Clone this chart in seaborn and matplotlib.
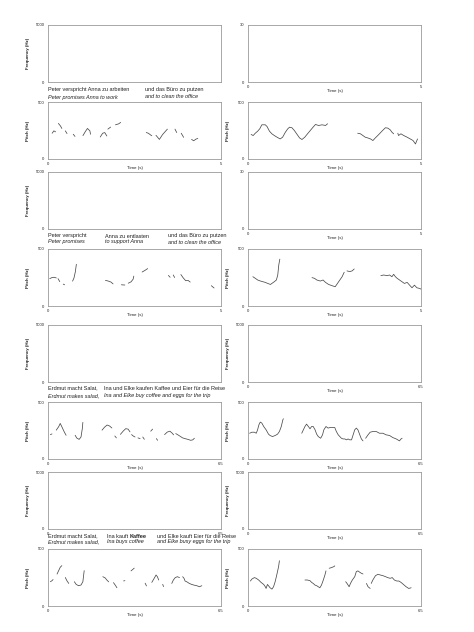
import numpy as np
import pandas as pd
import matplotlib
matplotlib.use("Agg")
import matplotlib.pyplot as plt
import seaborn as sns

# ---------------- data ----------------
# Sentence 1 (0-5 s), left column pitch segments
S1A_T = [[0.12, 0.17, 0.22], [0.30, 0.36, 0.40], [0.50, 0.55], [0.73, 0.78],
         [1.01, 1.08, 1.14, 1.21, 1.23], [1.51, 1.58, 1.64, 1.70], [1.73, 1.81],
         [1.95, 2.04, 2.10], [2.84, 2.90, 2.96, 3.00], [3.12, 3.22, 3.31, 3.45],
         [3.67, 3.72], [3.85, 3.92], [4.15, 4.21, 4.28, 4.33]]
S1A_F = [[226, 247, 238], [312, 290, 268], [247, 223], [217, 198],
         [205, 241, 268, 247, 217], [193, 226, 232, 202], [262, 280],
         [300, 308, 321], [232, 226, 212, 204], [208, 172, 214, 262],
         [262, 232], [226, 190], [172, 160, 175, 180]]
# Sentence 1, right column
S1B_T = [[0.09, 0.15, 0.21, 0.28, 0.34, 0.40, 0.50, 0.55, 0.62, 0.69, 0.76, 0.84, 0.93, 1.00,
          1.08, 1.15, 1.20, 1.27, 1.34, 1.42, 1.49, 1.56, 1.64, 1.72, 1.80, 1.88, 1.95, 2.04,
          2.14, 2.24, 2.30],
         [3.17, 3.25, 3.32, 3.39, 3.46, 3.54, 3.61, 3.68, 3.78, 3.87, 3.97, 4.04, 4.11, 4.16, 4.21],
         [4.33, 4.35, 4.42, 4.50, 4.60, 4.69, 4.77, 4.84, 4.88, 4.90]]
S1B_F = [[215, 206, 226, 244, 265, 300, 300, 285, 244, 221, 206, 191, 176, 191,
          235, 265, 279, 274, 250, 215, 185, 171, 191, 221, 250, 279, 303, 294,
          300, 294, 309],
         [226, 221, 206, 191, 185, 176, 162, 185, 215, 244, 274, 271, 256, 235, 221],
         [226, 206, 221, 206, 191, 176, 162, 132, 162, 176]]

# Sentence 2 (0-5 s)
S2A_T = [[0.05, 0.12, 0.18, 0.24], [0.29, 0.34], [0.44, 0.48], [0.71, 0.75, 0.79, 0.82],
         [1.66, 1.74, 1.82, 1.88], [2.12, 2.22], [2.32, 2.40, 2.46, 2.48],
         [2.72, 2.80, 2.88], [3.48, 3.53], [3.62, 3.66],
         [3.84, 3.91, 3.98, 4.05, 4.11], [4.72, 4.80]]
S2A_F = [[240, 250, 252, 246], [240, 214], [192, 186], [218, 245, 300, 366],
         [225, 219, 210, 194], [186, 184], [200, 212, 235, 262],
         [298, 312, 328], [268, 252], [272, 250],
         [276, 246, 222, 224, 210], [178, 158]]
S2B_T = [[0.14, 0.21, 0.28, 0.36, 0.43, 0.50, 0.57, 0.65, 0.69, 0.76, 0.82, 0.86, 0.89, 0.92],
         [1.85, 1.92, 1.99, 2.09, 2.17, 2.24, 2.33, 2.43, 2.52, 2.62, 2.72, 2.78],
         [2.86, 2.94, 3.01, 3.07],
         [3.84, 3.92, 4.02, 4.09, 4.16, 4.21, 4.26, 4.31, 4.38, 4.45, 4.52, 4.60, 4.67,
          4.74, 4.81, 4.88, 4.96, 5.00]]
S2B_F = [[257, 243, 228, 219, 213, 207, 198, 189, 198, 213, 228, 272, 361, 411],
         [249, 243, 228, 219, 228, 207, 189, 178, 169, 213, 257, 296],
         [308, 302, 308, 325],
         [266, 272, 266, 272, 257, 278, 257, 243, 228, 213, 198, 207, 183,
          160, 183, 160, 154, 148]]

# Sentence 3 (0-6.5 s)
S3A_T = [[0.09, 0.15], [0.31, 0.40, 0.46, 0.52, 0.61, 0.68],
         [1.02, 1.08, 1.17, 1.24, 1.29, 1.31], [2.03, 2.12, 2.22, 2.31, 2.40],
         [2.51, 2.57], [2.72, 2.83, 2.92, 3.01, 3.08], [3.14, 3.20, 3.27],
         [3.38, 3.46], [3.56, 3.62], [3.86, 3.93], [4.07, 4.12],
         [4.38, 4.48, 4.58, 4.66, 4.72],
         [4.80, 4.88, 4.96, 5.06, 5.16, 5.26, 5.36, 5.44, 5.50]]
S3A_F = [[214, 220], [253, 283, 312, 283, 238, 208],
         [208, 184, 172, 193, 268, 321], [253, 278, 298, 290, 272],
         [202, 185], [216, 246, 266, 262, 238], [214, 202, 193],
         [185, 179], [193, 173], [244, 262], [179, 164],
         [214, 236, 244, 228, 212],
         [223, 212, 200, 185, 178, 172, 164, 168, 182]]
S3B_T = [[0.06, 0.15, 0.24, 0.31, 0.36, 0.41, 0.46, 0.52, 0.59, 0.68, 0.77, 0.83, 0.92,
          1.02, 1.11, 1.18, 1.25, 1.31, 1.33],
         [2.02, 2.08, 2.14, 2.20, 2.27, 2.33, 2.39, 2.45, 2.52, 2.58, 2.64, 2.73, 2.80,
          2.85, 2.93, 3.01, 3.08, 3.14, 3.20, 3.26, 3.32, 3.39, 3.45, 3.51, 3.57, 3.64,
          3.70, 3.76, 3.82, 3.89, 3.95, 4.01, 4.07, 4.13, 4.20, 4.26, 4.32],
         [4.42, 4.51, 4.59, 4.69, 4.82, 4.94, 5.07, 5.19, 5.32, 5.44, 5.57, 5.69, 5.75, 5.79]]
S3B_F = [[226, 235, 235, 226, 256, 300, 324, 315, 285, 256, 218, 206, 197,
          206, 218, 241, 285, 344, 353],
         [226, 256, 285, 306, 285, 265, 285, 285, 256, 218, 197, 182, 212,
          256, 285, 271, 276, 276, 276, 276, 241, 212, 197, 182, 176, 176,
          168, 176, 168, 168, 212, 256, 271, 256, 212, 176, 159],
         [182, 212, 235, 241, 241, 226, 226, 212, 206, 188, 176, 159, 176, 182]]

# Sentence 4 (0-6.5 s)
S4A_T = [[0.09, 0.15, 0.19], [0.34, 0.40, 0.46, 0.52], [0.65, 0.71, 0.78],
         [0.99, 1.06, 1.15, 1.24, 1.31, 1.34, 1.36], [2.06, 2.15, 2.21, 2.28],
         [2.46, 2.53, 2.59], [2.84, 2.89], [3.12, 3.18, 3.24], [3.65, 3.70],
         [3.90, 3.99, 4.06, 4.11, 4.16], [4.31, 4.34], [4.65, 4.71, 4.78, 4.86, 4.94],
         [5.06, 5.11, 5.15, 5.21, 5.31, 5.40, 5.49, 5.59, 5.69, 5.78]]
S4A_F = [[213, 222, 232], [280, 310, 340, 354], [250, 222, 198],
         [213, 189, 178, 184, 213, 272, 310], [257, 246, 228, 212],
         [205, 182, 160], [220, 222], [308, 320, 332], [200, 176],
         [207, 243, 272, 257, 228], [190, 170], [198, 228, 249, 257, 249],
         [257, 243, 219, 213, 198, 189, 183, 178, 169, 178]]
S4B_T = [[0.09, 0.15, 0.24, 0.31, 0.40, 0.49, 0.59, 0.65, 0.68, 0.73, 0.77, 0.83, 0.90,
          0.96, 1.02, 1.08, 1.15, 1.18],
         [2.14, 2.23, 2.33, 2.39, 2.45, 2.52, 2.58, 2.64, 2.70, 2.76, 2.83, 2.89, 2.93],
         [3.05, 3.14, 3.23, 3.26],
         [3.67, 3.72, 3.80, 3.85, 3.92, 4.01, 4.07, 4.13, 4.20, 4.26, 4.32],
         [4.45, 4.51, 4.59],
         [4.63, 4.69, 4.79, 4.88, 4.97, 5.07, 5.17, 5.25, 5.34, 5.42, 5.50, 5.59, 5.67,
          5.75, 5.84, 5.94, 6.04, 6.13]]
S4B_F = [[219, 237, 249, 243, 228, 207, 189, 169, 154, 189, 178, 160, 148,
          169, 213, 272, 346, 397],
         [228, 228, 222, 207, 198, 183, 178, 169, 160, 183, 228, 272, 308],
         [331, 337, 346, 352],
         [213, 198, 169, 198, 228, 257, 302, 308, 296, 287, 281],
         [198, 169, 154],
         [198, 228, 266, 278, 272, 266, 257, 249, 243, 249, 228, 219, 219,
          207, 189, 169, 154, 160]]

DURATIONS = [5, 5, 6.5, 6.5]
DUR_LABELS = ["5", "5", "6.5", "6.5"]
RIGHT_SPEC_TOP = ["30", "30", "5000", "5000"]

# Sentence text: (German, English, x position in px)
TEXT_ROWS = [
    [("Peter verspricht Anna zu arbeiten", "Peter promises Anna to work", 48),
     ("und das Büro zu putzen", "and to clean the office", 145)],
    [("Peter verspricht", "Peter promises", 48),
     ("Anna zu entlasten", "to support Anna", 105),
     ("und das Büro zu putzen", "and to clean the office", 168)],
    [("Erdmut macht Salat,", "Erdmut makes salad,", 48),
     ("Ina und Elke kaufen Kaffee und Eier für die Reise",
      "Ina and Elke buy coffee and eggs for the trip", 104)],
    [("Erdmut macht Salat,", "Erdmut makes salad,", 48),
     ("Ina kauft", "Ina buys coffee", 107),
     ("und Elke kauft Eier für die Reise", "and Elke busy eggs for the trip", 157)],
]

PITCH_T = [(S1A_T, S1B_T), (S2A_T, S2B_T), (S3A_T, S3B_T), (S4A_T, S4B_T)]
PITCH_F = [(S1A_F, S1B_F), (S2A_F, S2B_F), (S3A_F, S3B_F), (S4A_F, S4B_F)]

# ---------------- layout ----------------
W, H = 474, 632
sns.set_style("white")
plt.rcParams["font.family"] = ["Liberation Sans", "DejaVu Sans"]

fig = plt.figure(figsize=(W / 100, H / 100), dpi=100)

COL_X = [48, 248]
AX_W = 173
AX_H = 57
SPEC_TOP = [25, 172, 325, 472]
PITCH_TOP = [102, 249, 402, 549]
TEXT_Y = [(90, 97), (236, 242), (388, 396), (536, 542)]

SPINE_C = "#9a9a9a"
LINE_C = "#4a4a4a"
TXT_C = "#222222"
FS_TICK = 3.0
FS_LAB = 3.2
FS_TXT = 4.0


def make_ax(x, ytop):
    return fig.add_axes([x / W, 1 - (ytop + AX_H) / H, AX_W / W, AX_H / H])


def style(ax, xmax, xlab, ymax, ylab_top, show_x, show_xlabel, ylabel):
    ax.set_xlim(0, xmax)
    ax.set_ylim(0, ymax)
    for s in ax.spines.values():
        s.set_color(SPINE_C)
        s.set_linewidth(0.6)
    ax.set_yticks([0, ymax])
    ax.set_yticklabels(["0", ylab_top])
    ax.set_xticks([0, xmax])
    if show_x:
        ax.set_xticklabels(["0", xlab])
    else:
        ax.set_xticklabels(["", ""])
        ax.tick_params(axis="x", length=0)
    ax.tick_params(axis="both", which="both", direction="out", length=1.5, width=0.4,
                   color=SPINE_C, labelsize=FS_TICK, pad=1, labelcolor=TXT_C)
    if show_xlabel:
        ax.set_xlabel("Time (s)", fontsize=FS_LAB, color=TXT_C)
        ax.xaxis.set_label_coords(0.5, -7 / AX_H)
    else:
        ax.set_xlabel("")
    if ylabel:
        ax.set_ylabel(ylabel, fontsize=FS_LAB, color=TXT_C, fontweight="bold")
        ax.yaxis.set_label_coords(-18 / AX_W, 0.5)
    else:
        ax.set_ylabel("")


def draw_pitch(ax, T, F):
    rows = []
    for i, (ts, fs) in enumerate(zip(T, F)):
        for t, f in zip(ts, fs):
            rows.append((i, t, f))
    df = pd.DataFrame(rows, columns=["seg", "t", "f0"])
    sns.lineplot(data=df, x="t", y="f0", units="seg", estimator=None, sort=False,
                 color=LINE_C, lw=0.55, ax=ax, legend=False)


for r in range(4):
    dur = DURATIONS[r]
    dl = DUR_LABELS[r]
    # spectrogram row (empty frames)
    axL = make_ax(COL_X[0], SPEC_TOP[r])
    style(axL, dur, dl, 5000, "5000", show_x=(r == 3), show_xlabel=False,
          ylabel="Frequency (Hz)")
    axR = make_ax(COL_X[1], SPEC_TOP[r])
    ytop = int(RIGHT_SPEC_TOP[r])
    style(axR, dur, dl, ytop, RIGHT_SPEC_TOP[r], show_x=True, show_xlabel=True,
          ylabel=("Frequency (Hz)" if r >= 2 else None))
    # pitch row
    for c in range(2):
        ax = make_ax(COL_X[c], PITCH_TOP[r])
        draw_pitch(ax, PITCH_T[r][c], PITCH_F[r][c])
        style(ax, dur, dl, 500, "500", show_x=True, show_xlabel=True,
              ylabel="Pitch (Hz)")
    # sentence texts
    y1, y2 = TEXT_Y[r]
    for ger, eng, xp in TEXT_ROWS[r]:
        t1 = fig.text(xp / W, 1 - y1 / H, ger, fontsize=FS_TXT, color=TXT_C,
                      ha="left", va="center")
        if r == 3 and ger == "Ina kauft":
            # bold word following
            fig.canvas.draw()
            bb = t1.get_window_extent()
            fig.text((bb.x1 + 1) / W, 1 - y1 / H, "Kaffee", fontsize=FS_TXT,
                     color=TXT_C, ha="left", va="center", fontweight="bold")
        fig.text(xp / W, 1 - y2 / H, eng, fontsize=FS_TXT, color=TXT_C,
                 ha="left", va="center", style="italic")

fig.savefig("out.png", dpi=100, facecolor="white")
